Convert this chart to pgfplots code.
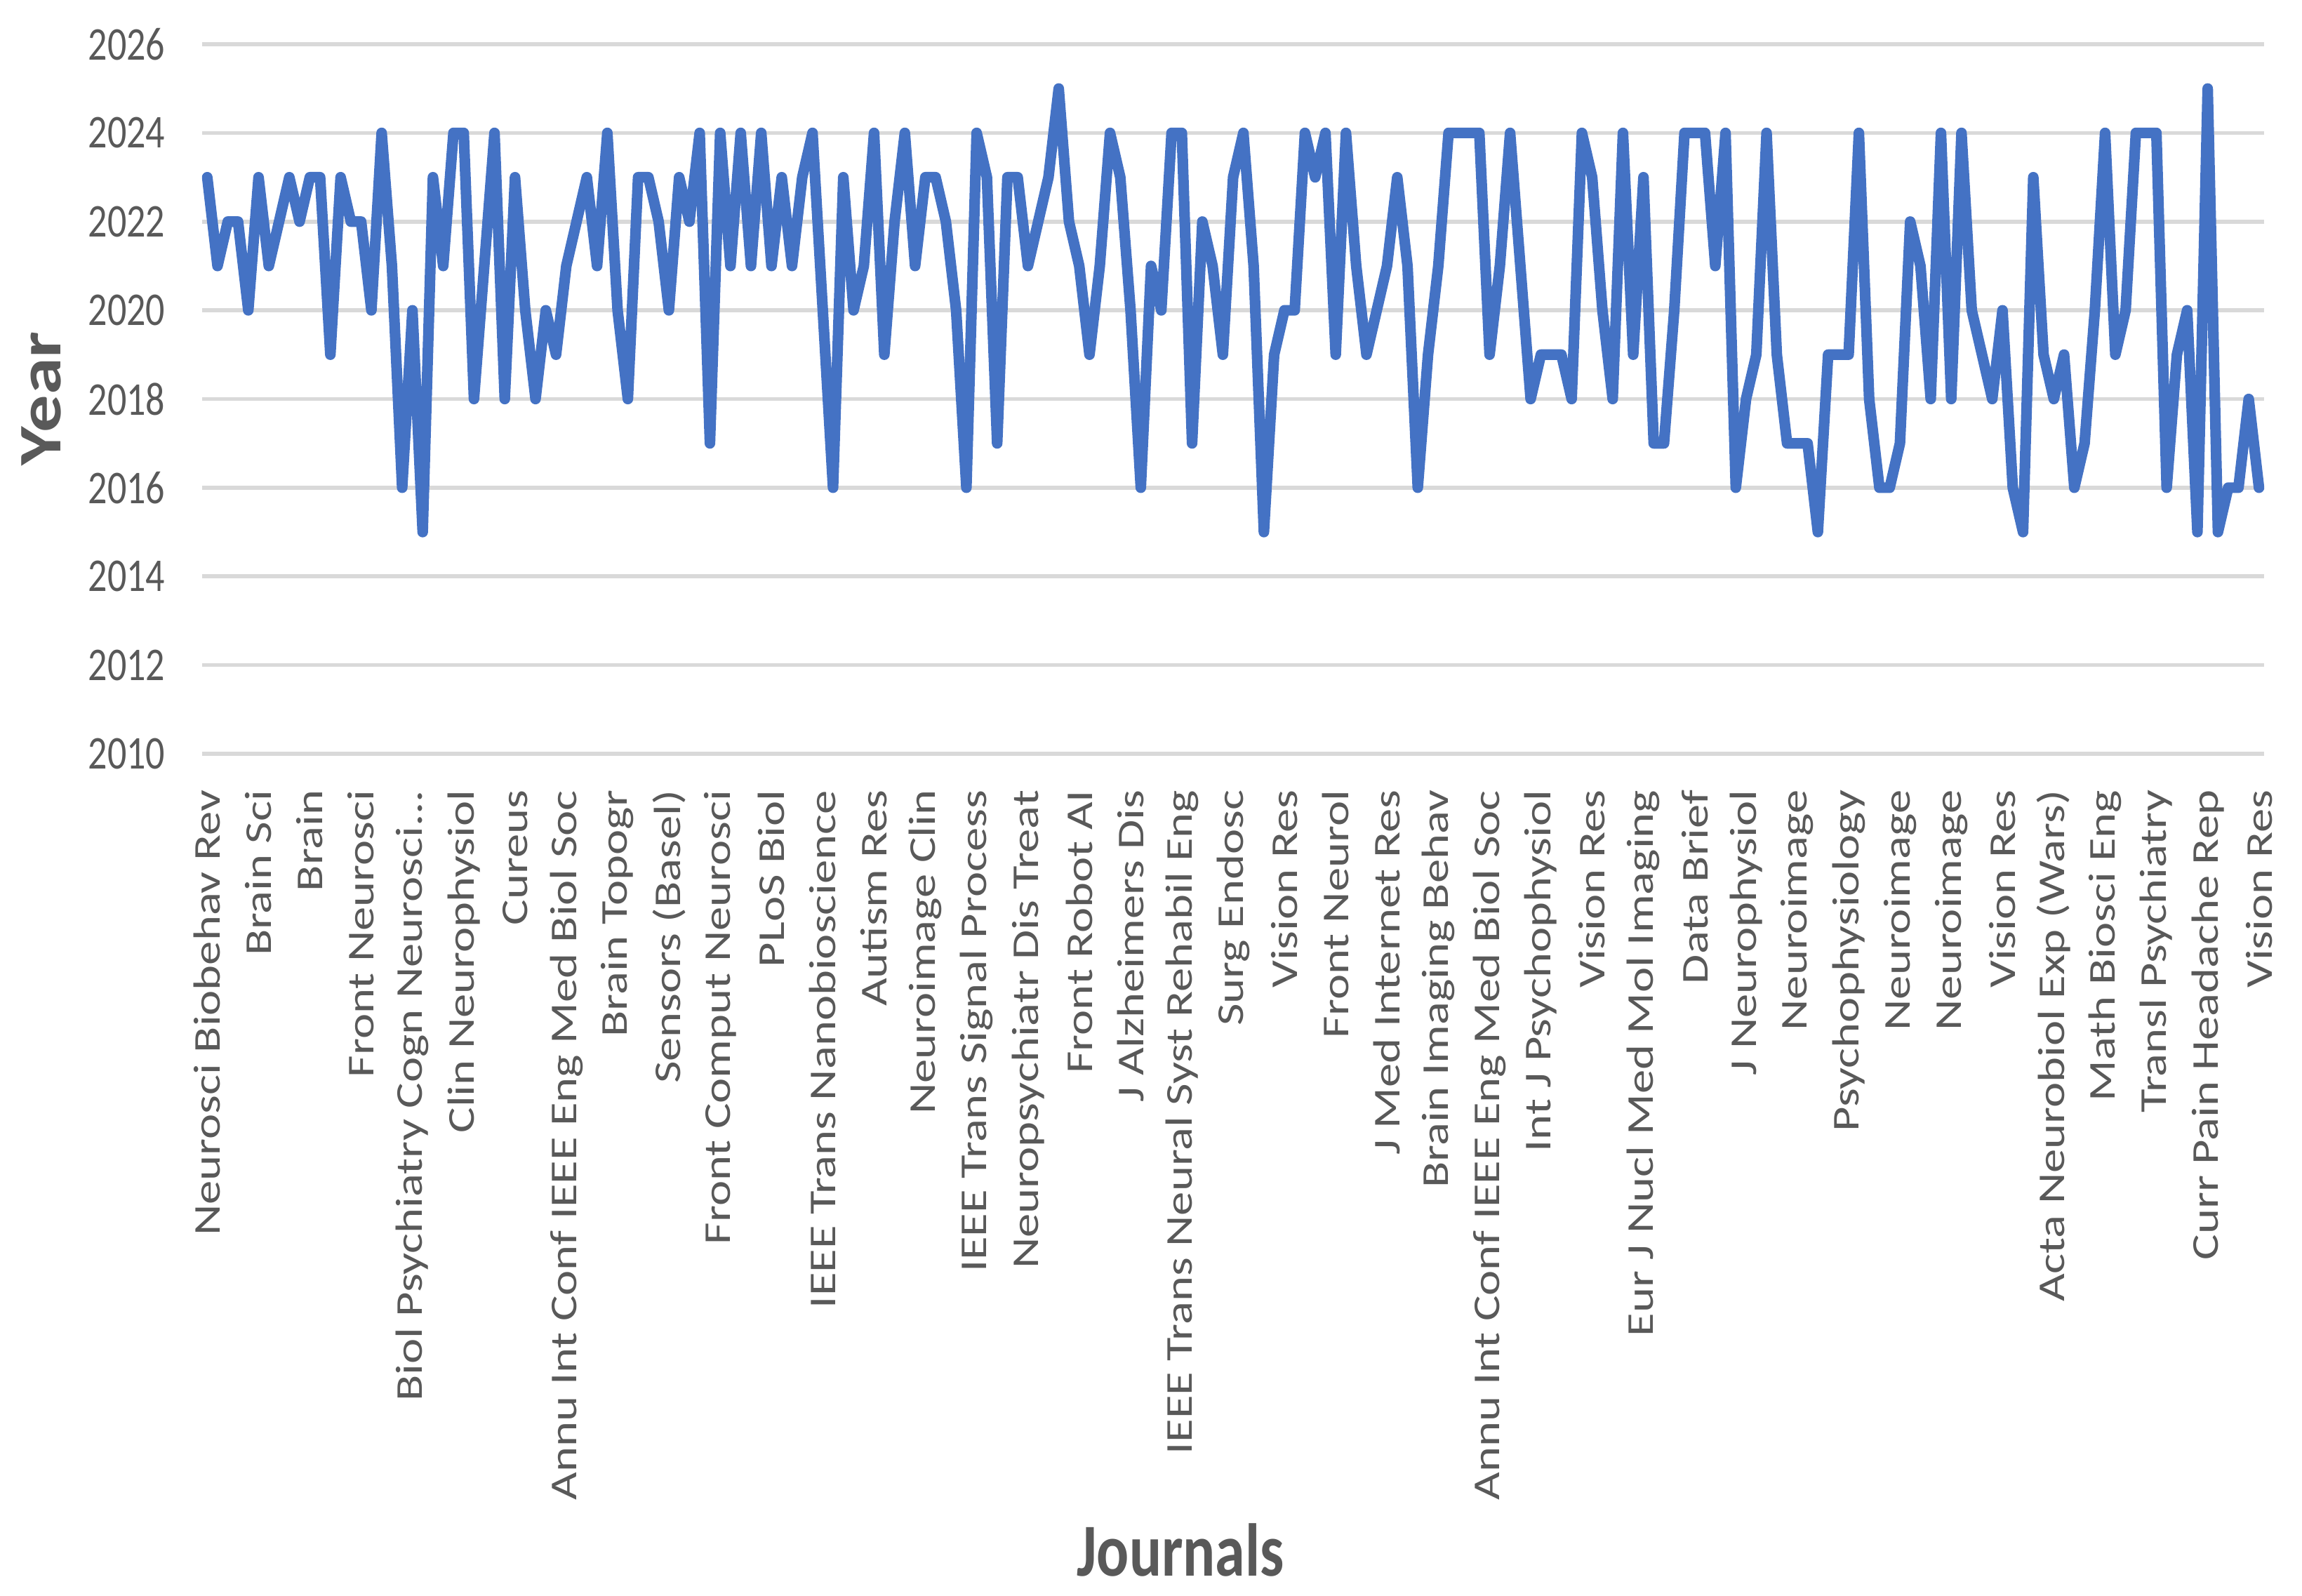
\documentclass[border=0pt]{standalone}
\usepackage{fontspec}
\setmainfont{Carlito}
\usepackage{graphicx}
\usepackage{pgfplots}
\usepackage{pgfplotstable}
\pgfplotsset{compat=1.18}
\definecolor{lineblue}{HTML}{4472C4}
\definecolor{gridgray}{HTML}{D9D9D9}
\definecolor{txtgray}{HTML}{595959}
\newcommand\JL[1]{\scalebox{1.27}[1]{#1}}
\pgfplotstableread{
idx year
0 2023
1 2021
2 2022
3 2022
4 2020
5 2023
6 2021
7 2022
8 2023
9 2022
10 2023
11 2023
12 2019
13 2023
14 2022
15 2022
16 2020
17 2024
18 2021
19 2016
20 2020
21 2015
22 2023
23 2021
24 2024
25 2024
26 2018
27 2021
28 2024
29 2018
30 2023
31 2020
32 2018
33 2020
34 2019
35 2021
36 2022
37 2023
38 2021
39 2024
40 2020
41 2018
42 2023
43 2023
44 2022
45 2020
46 2023
47 2022
48 2024
49 2017
50 2024
51 2021
52 2024
53 2021
54 2024
55 2021
56 2023
57 2021
58 2023
59 2024
60 2020
61 2016
62 2023
63 2020
64 2021
65 2024
66 2019
67 2022
68 2024
69 2021
70 2023
71 2023
72 2022
73 2020
74 2016
75 2024
76 2023
77 2017
78 2023
79 2023
80 2021
81 2022
82 2023
83 2025
84 2022
85 2021
86 2019
87 2021
88 2024
89 2023
90 2020
91 2016
92 2021
93 2020
94 2024
95 2024
96 2017
97 2022
98 2021
99 2019
100 2023
101 2024
102 2021
103 2015
104 2019
105 2020
106 2020
107 2024
108 2023
109 2024
110 2019
111 2024
112 2021
113 2019
114 2020
115 2021
116 2023
117 2021
118 2016
119 2019
120 2021
121 2024
122 2024
123 2024
124 2024
125 2019
126 2021
127 2024
128 2021
129 2018
130 2019
131 2019
132 2019
133 2018
134 2024
135 2023
136 2020
137 2018
138 2024
139 2019
140 2023
141 2017
142 2017
143 2020
144 2024
145 2024
146 2024
147 2021
148 2024
149 2016
150 2018
151 2019
152 2024
153 2019
154 2017
155 2017
156 2017
157 2015
158 2019
159 2019
160 2019
161 2024
162 2018
163 2016
164 2016
165 2017
166 2022
167 2021
168 2018
169 2024
170 2018
171 2024
172 2020
173 2019
174 2018
175 2020
176 2016
177 2015
178 2023
179 2019
180 2018
181 2019
182 2016
183 2017
184 2020
185 2024
186 2019
187 2020
188 2024
189 2024
190 2024
191 2016
192 2019
193 2020
194 2015
195 2025
196 2015
197 2016
198 2016
199 2018
200 2016
}\datatable
\begin{document}
\begin{tikzpicture}
\path[use as bounding box] (0,0) rectangle (820pt,568.25pt);
\begin{axis}[
  at={(72pt,299.75pt)}, anchor=south west,
  scale only axis, width=734.5pt, height=252.75pt,
  xmin=-0.5, xmax=200.5, ymin=2010, ymax=2026,
  ytick={2010,2012,...,2026},
  xtick={0,5,...,200},
  xticklabels={\JL{Neurosci Biobehav Rev},\JL{Brain Sci},\JL{Brain},\JL{Front Neurosci},\JL{Biol Psychiatry Cogn Neurosci...},\JL{Clin Neurophysiol},\JL{Cureus},\JL{Annu Int Conf IEEE Eng Med Biol Soc},\JL{Brain Topogr},\JL{Sensors (Basel)},\JL{Front Comput Neurosci},\JL{PLoS Biol},\JL{IEEE Trans Nanobioscience},\JL{Autism Res},\JL{Neuroimage Clin},\JL{IEEE Trans Signal Process},\JL{Neuropsychiatr Dis Treat},\JL{Front Robot AI},\JL{J Alzheimers Dis},\JL{IEEE Trans Neural Syst Rehabil Eng},\JL{Surg Endosc},\JL{Vision Res},\JL{Front Neurol},\JL{J Med Internet Res},\JL{Brain Imaging Behav},\JL{Annu Int Conf IEEE Eng Med Biol Soc},\JL{Int J Psychophysiol},\JL{Vision Res},\JL{Eur J Nucl Med Mol Imaging},\JL{Data Brief},\JL{J Neurophysiol},\JL{Neuroimage},\JL{Psychophysiology},\JL{Neuroimage},\JL{Neuroimage},\JL{Vision Res},\JL{Acta Neurobiol Exp (Wars)},\JL{Math Biosci Eng},\JL{Transl Psychiatry},\JL{Curr Pain Headache Rep},\JL{Vision Res}},
  ymajorgrids, grid style={draw=gridgray, line width=1.4pt},
  axis line style={draw=none},
  tick style={draw=none}, major tick length=0pt,
  /pgf/number format/assume math mode=true,
  /pgf/number format/1000 sep={},
  yticklabel={\scalebox{1}[1.24]{\pgfmathprintnumber{\tick}}},
  yticklabel style={font=\fontsize{13.5}{16}\selectfont, text=txtgray, anchor=east, inner sep=0pt, xshift=-13pt},
  xticklabel style={font=\fontsize{13.5}{16}\selectfont, text=txtgray, yshift=-12.75pt, rotate=90, anchor=east, inner sep=0pt},
  xlabel={\scalebox{1}[1.24]{Journals}},
  xlabel style={at={(axis description cs:0.4745,-1.1217)}, anchor=center, font=\fontsize{21.5}{26}\selectfont\bfseries, text=txtgray},
  ylabel={\scalebox{1.24}[1]{Year}},
  ylabel style={at={(axis description cs:-0.0779,0.5005)}, anchor=center, font=\fontsize{21.5}{26}\selectfont\bfseries, text=txtgray},
]
\addplot[color=lineblue, line width=3.8pt, line join=round, line cap=round, mark=none] table[x=idx, y=year] {\datatable};
\end{axis}
\end{tikzpicture}
\end{document}
